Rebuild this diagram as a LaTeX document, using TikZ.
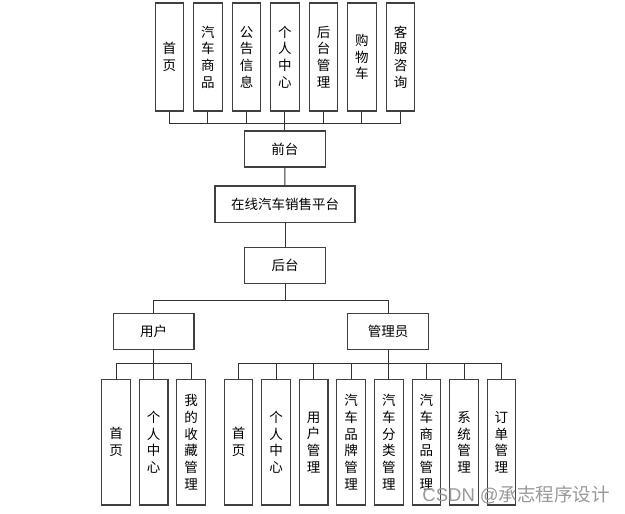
\documentclass[tikz,border=0pt]{standalone}
\usepackage{fontspec}
\newfontfamily\cjk{Noto Sans CJK SC}
\begin{document}
\begin{tikzpicture}[x=1pt,y=-1pt,
  box/.style={draw=black!75, line width=1.1pt, fill=white, inner sep=0pt, font=\cjk\fontsize{13.5}{16.7}\selectfont},
  vtop/.style={box, minimum width=28.5pt, minimum height=108pt, align=center, text width=15pt},
  vbot/.style={box, minimum width=28.5pt, minimum height=125.5pt, align=center, text width=15pt},
  hbox/.style={box, minimum width=80.5pt, minimum height=36pt},
  link/.style={draw=black!80, line width=1pt}]
  \useasboundingbox (0,0) rectangle (625,514);

  \node[vtop] (t1) at (169.3,57) {首\\页};
  \node[vtop] (t2) at (207.8,57) {汽\\车\\商\\品};
  \node[vtop] (t3) at (246.5,57) {公\\告\\信\\息};
  \node[vtop] (t4) at (284.8,57) {个\\人\\中\\心};
  \node[vtop] (t5) at (323.5,57) {后\\台\\管\\理};
  \node[vtop] (t6) at (361.8,57) {购\\物\\车};
  \node[vtop] (t7) at (400.5,57) {客\\服\\咨\\询};

  \node[hbox] (qiantai) at (284.8,149) {前台};
  \node[hbox, minimum width=140pt, minimum height=36.7pt] (pingtai) at (285,204.3) {在线汽车销售平台};
  \node[hbox] (houtai) at (285,265.5) {后台};

  \node[hbox] (yonghu) at (153.7,331.3) {用户};
  \node[hbox] (guanli) at (388,331.3) {管理员};

  \node[vbot] (u1) at (116,442.2) {首\\页};
  \node[vbot] (u2) at (153.7,442.2) {个\\人\\中\\心};
  \node[vbot] (u3) at (191,442.2) {我\\的\\收\\藏\\管\\理};

  \node[vbot] (a1) at (238.5,442.2) {首\\页};
  \node[vbot] (a2) at (276,442.2) {个\\人\\中\\心};
  \node[vbot] (a3) at (313.7,442.2) {用\\户\\管\\理};
  \node[vbot] (a4) at (351,442.2) {汽\\车\\品\\牌\\管\\理};
  \node[vbot] (a5) at (388.8,442.2) {汽\\车\\分\\类\\管\\理};
  \node[vbot] (a6) at (426.3,442.2) {汽\\车\\商\\品\\管\\理};
  \node[vbot] (a7) at (464,442.2) {系\\统\\管\\理};
  \node[vbot] (a8) at (501.3,442.2) {订\\单\\管\\理};

  \foreach \n in {t1,t2,t3,t4,t5,t6,t7}
    \draw[link] (qiantai.north) -- ++(0,-6.7) -| (\n.south);
  \draw[link] (qiantai.south) -- (pingtai.north);
  \draw[link] (pingtai.south) -- (houtai.north);
  \foreach \n in {yonghu,guanli}
    \draw[link] (houtai.south) -- ++(0,16.7) -| (\n.north);
  \foreach \n in {u1,u2,u3}
    \draw[link] (yonghu.south) -- ++(0,13.4) -| (\n.north);
  \foreach \n in {a1,a2,a3,a4,a5,a6,a7,a8}
    \draw[link] (guanli.south) -- ++(0,13.4) -| (\n.north);

  \node[text=black!40, font=\fontspec{Liberation Sans}\fontsize{18.5}{20}\selectfont, anchor=east, inner sep=0pt] (csdn) at (610,495) {CSDN @{\cjk 承志程序设计}};
\end{tikzpicture}
\end{document}
